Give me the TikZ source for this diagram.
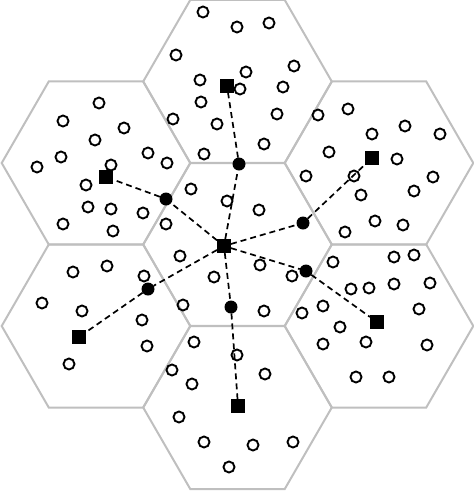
\documentclass[tikz,border=0pt]{standalone}
\usetikzlibrary{positioning}
\tikzset{
  x=1pt,
  y=-1pt,
  every node/.style={outer sep=0pt,inner sep=0pt}
}
\tikzset{cell/.style={draw=black!25,line width=2pt}}
\tikzset{user/.style={circle,draw,line width=1.9pt,minimum size=11pt}}
\tikzset{bs/.style={rectangle,fill=black,minimum size=14pt}}
\tikzset{relay/.style={circle,fill=black,minimum size=13pt}}
\tikzset{link/.style={line width=1.7pt,dash pattern=on 6pt off 4pt}}

\begin{document}
\begin{tikzpicture}
  \useasboundingbox (0,0) rectangle (474,491);

  \foreach \cx/\cy in {237.5/244.5,237.5/81.5,237.5/407.5,96/163,96/326,379/163,379/326}
    \draw [cell,shift={(\cx,\cy)}] (0:94.3) -- (60:94.3) -- (120:94.3) -- (180:94.3)
      -- (240:94.3) -- (300:94.3) -- cycle;

  \node (bsC)  [bs] at (224,246) {};
  \node (bsT)  [bs] at (227,86)  {};
  \node (bsUL) [bs] at (106,177) {};
  \node (bsUR) [bs] at (372,158) {};
  \node (bsLL) [bs] at (79,337)  {};
  \node (bsLR) [bs] at (377,322) {};
  \node (bsB)  [bs] at (238,406) {};

  \node (rT)  [relay] at (239,164) {};
  \node (rUL) [relay] at (166,199) {};
  \node (rUR) [relay] at (303,223) {};
  \node (rLL) [relay] at (148,289) {};
  \node (rLR) [relay] at (306,271) {};
  \node (rB)  [relay] at (231,307) {};

  \draw [link] (bsC) -- (rT)  -- (bsT);
  \draw [link] (bsC) -- (rUL) -- (bsUL);
  \draw [link] (bsC) -- (rUR) -- (bsUR);
  \draw [link] (bsC) -- (rLL) -- (bsLL);
  \draw [link] (bsC) -- (rLR) -- (bsLR);
  \draw [link] (bsC) -- (rB)  -- (bsB);

  \foreach \x/\y [count=\i] in {
      203/12,237/27,269/23,176/55,294/66,246/72,200/80,240/89,283/87,201/102,
      173/119,217/124,277/114,264/144,204/154,148/153,167/163,
      318/115,329/152,348/109,405/126,440/134,372/134,397/159,306/176,354/176,
      433/177,414/191,361/195,375/221,403/225,345/232,
      99/103,63/121,124/128,95/140,61/157,37/167,111/165,86/185,191/189,
      88/207,111/209,143/213,63/224,113/231,166/224,
      227/201,259/210,180/256,260/265,214/277,292/276,144/276,333/262,
      183/305,264/311,302/313,323/306,142/320,
      73/272,107/266,42/303,82/311,147/346,194/342,69/364,172/370,192/384,
      394/257,414/255,351/289,369/288,394/284,430/283,419/309,340/327,
      323/344,366/342,427/345,356/377,389/377,
      237/355,265/374,179/417,204/442,253/445,293/442,229/467}
    \node (u\i) [user] at (\x,\y) {};
\end{tikzpicture}
\end{document}
